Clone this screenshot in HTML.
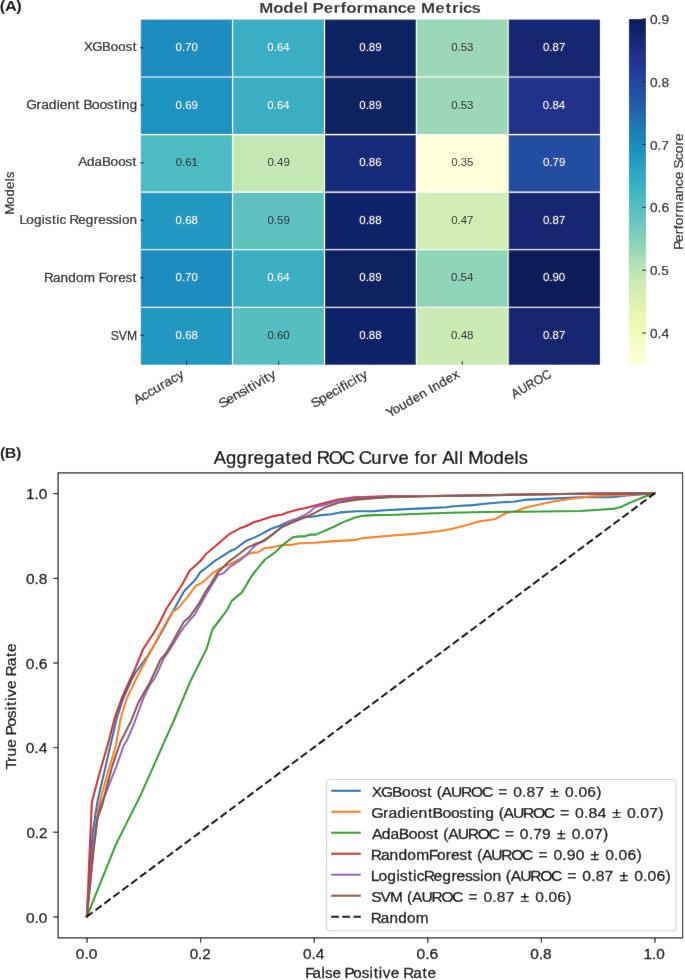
<!DOCTYPE html>
<html><head><meta charset="utf-8"><title>Model Performance</title>
<style>
html,body{margin:0;padding:0;background:#fff;}
body{width:685px;height:980px;overflow:hidden;font-family:"Liberation Sans",sans-serif;}
svg{display:block;}
</style></head>
<body>
<svg width="685" height="980" viewBox="0 0 685 980" font-family="'Liberation Sans', sans-serif">
<filter id="soft" x="0" y="0" width="1" height="1"><feConvolveMatrix order="3" kernelMatrix="0.00276 0.04704 0.00276 0.04704 0.80077 0.04704 0.00276 0.04704 0.00276" edgeMode="duplicate"/></filter>
<g filter="url(#soft)">
<rect x="0" y="0" width="685" height="980" fill="#fff"/>
<defs><linearGradient id="cb" x1="0" y1="0" x2="0" y2="1"><stop offset="0.0000" stop-color="#081d58"/><stop offset="0.0250" stop-color="#0d2163"/><stop offset="0.0500" stop-color="#13266f"/><stop offset="0.0750" stop-color="#192b7c"/><stop offset="0.1000" stop-color="#1f2f87"/><stop offset="0.1250" stop-color="#243392"/><stop offset="0.1500" stop-color="#243c98"/><stop offset="0.1750" stop-color="#24449c"/><stop offset="0.2000" stop-color="#234da0"/><stop offset="0.2250" stop-color="#2355a4"/><stop offset="0.2500" stop-color="#225da8"/><stop offset="0.2750" stop-color="#2168ad"/><stop offset="0.3000" stop-color="#2072b1"/><stop offset="0.3250" stop-color="#1f7db6"/><stop offset="0.3500" stop-color="#1e86bb"/><stop offset="0.3750" stop-color="#1d90c0"/><stop offset="0.4000" stop-color="#2498c1"/><stop offset="0.4250" stop-color="#2b9fc2"/><stop offset="0.4500" stop-color="#33a7c2"/><stop offset="0.4750" stop-color="#3aaec3"/><stop offset="0.5000" stop-color="#40b5c4"/><stop offset="0.5250" stop-color="#4ebbc2"/><stop offset="0.5500" stop-color="#59bfc0"/><stop offset="0.5750" stop-color="#67c4be"/><stop offset="0.6000" stop-color="#73c8bd"/><stop offset="0.6250" stop-color="#7ecdbb"/><stop offset="0.6500" stop-color="#8ed3ba"/><stop offset="0.6750" stop-color="#9cd8b8"/><stop offset="0.7000" stop-color="#abdeb7"/><stop offset="0.7250" stop-color="#b9e4b5"/><stop offset="0.7500" stop-color="#c6e9b4"/><stop offset="0.7750" stop-color="#cfecb3"/><stop offset="0.8000" stop-color="#d6efb3"/><stop offset="0.8250" stop-color="#dff2b2"/><stop offset="0.8500" stop-color="#e6f5b2"/><stop offset="0.8750" stop-color="#edf8b1"/><stop offset="0.9000" stop-color="#f1faba"/><stop offset="0.9250" stop-color="#f4fbc1"/><stop offset="0.9500" stop-color="#f8fcca"/><stop offset="0.9750" stop-color="#fcfed1"/><stop offset="1.0000" stop-color="#ffffd9"/></linearGradient></defs>
<text transform="translate(-0.54 10.90) scale(1.1638 1)" x="0.28 4.67 14.53" y="0" font-size="14.07" font-weight="bold" fill="#000">(A)</text>
<text transform="translate(259.21 13.00) scale(1.1311 1)" x="0.14 12.40 21.25 30.45 38.96 43.32 47.23 56.96 65.59 71.86 76.86 85.96 91.90 105.21 113.55 122.18 130.20 138.75 143.07 155.69 164.65 170.35 176.45 180.27 187.76" y="0" font-size="14.94" font-weight="bold" fill="#333">Model Performance Metrics</text>
<rect x="140.80" y="19.56" width="91.89" height="57.57" fill="#1d8dbe"/>
<rect x="232.64" y="19.56" width="91.89" height="57.57" fill="#3aaec3"/>
<rect x="324.48" y="19.56" width="91.89" height="57.57" fill="#0c2060"/>
<rect x="416.32" y="19.56" width="91.89" height="57.57" fill="#9cd8b8"/>
<rect x="508.16" y="19.56" width="91.89" height="57.57" fill="#142670"/>
<rect x="140.80" y="77.08" width="91.89" height="57.57" fill="#1f93c0"/>
<rect x="232.64" y="77.08" width="91.89" height="57.57" fill="#3aaec3"/>
<rect x="324.48" y="77.08" width="91.89" height="57.57" fill="#0c2060"/>
<rect x="416.32" y="77.08" width="91.89" height="57.57" fill="#9cd8b8"/>
<rect x="508.16" y="77.08" width="91.89" height="57.57" fill="#21308b"/>
<rect x="140.80" y="134.61" width="91.89" height="57.57" fill="#4ebbc2"/>
<rect x="232.64" y="134.61" width="91.89" height="57.57" fill="#c4e8b4"/>
<rect x="324.48" y="134.61" width="91.89" height="57.57" fill="#182a7a"/>
<rect x="416.32" y="134.61" width="91.89" height="57.57" fill="#ffffd9"/>
<rect x="508.16" y="134.61" width="91.89" height="57.57" fill="#234da0"/>
<rect x="140.80" y="192.13" width="91.89" height="57.57" fill="#2498c1"/>
<rect x="232.64" y="192.13" width="91.89" height="57.57" fill="#61c2bf"/>
<rect x="324.48" y="192.13" width="91.89" height="57.57" fill="#102369"/>
<rect x="416.32" y="192.13" width="91.89" height="57.57" fill="#d1edb3"/>
<rect x="508.16" y="192.13" width="91.89" height="57.57" fill="#142670"/>
<rect x="140.80" y="249.65" width="91.89" height="57.57" fill="#1d8dbe"/>
<rect x="232.64" y="249.65" width="91.89" height="57.57" fill="#3aaec3"/>
<rect x="324.48" y="249.65" width="91.89" height="57.57" fill="#0c2060"/>
<rect x="416.32" y="249.65" width="91.89" height="57.57" fill="#90d4b9"/>
<rect x="508.16" y="249.65" width="91.89" height="57.57" fill="#081d58"/>
<rect x="140.80" y="307.18" width="91.89" height="57.57" fill="#2498c1"/>
<rect x="232.64" y="307.18" width="91.89" height="57.57" fill="#57bec1"/>
<rect x="324.48" y="307.18" width="91.89" height="57.57" fill="#102369"/>
<rect x="416.32" y="307.18" width="91.89" height="57.57" fill="#cbebb4"/>
<rect x="508.16" y="307.18" width="91.89" height="57.57" fill="#142670"/>
<line x1="232.64" y1="19.56" x2="232.64" y2="364.70" stroke="#fff" stroke-width="1.05"/>
<line x1="324.48" y1="19.56" x2="324.48" y2="364.70" stroke="#fff" stroke-width="1.05"/>
<line x1="416.32" y1="19.56" x2="416.32" y2="364.70" stroke="#fff" stroke-width="1.05"/>
<line x1="508.16" y1="19.56" x2="508.16" y2="364.70" stroke="#fff" stroke-width="1.05"/>
<line x1="140.80" y1="77.08" x2="600.00" y2="77.08" stroke="#fff" stroke-width="1.05"/>
<line x1="140.80" y1="134.61" x2="600.00" y2="134.61" stroke="#fff" stroke-width="1.05"/>
<line x1="140.80" y1="192.13" x2="600.00" y2="192.13" stroke="#fff" stroke-width="1.05"/>
<line x1="140.80" y1="249.65" x2="600.00" y2="249.65" stroke="#fff" stroke-width="1.05"/>
<line x1="140.80" y1="307.18" x2="600.00" y2="307.18" stroke="#fff" stroke-width="1.05"/>
<text transform="translate(175.36 50.97) scale(1.0731 1)" x="0.20 6.14 9.10 15.04" y="0" font-size="10.67" fill="#ffffff">0.70</text>
<text transform="translate(267.14 50.97) scale(1.0727 1)" x="0.20 6.14 9.10 15.04" y="0" font-size="10.67" fill="#ffffff">0.64</text>
<text transform="translate(359.06 50.97) scale(1.0754 1)" x="0.20 6.14 9.10 15.04" y="0" font-size="10.67" fill="#ffffff">0.89</text>
<text transform="translate(450.95 50.97) scale(1.0682 1)" x="0.20 6.14 9.11 15.04" y="0" font-size="10.67" fill="#262626">0.53</text>
<text transform="translate(542.82 50.97) scale(1.0693 1)" x="0.20 6.14 9.11 15.04" y="0" font-size="10.67" fill="#ffffff">0.87</text>
<text transform="translate(175.38 108.50) scale(1.0754 1)" x="0.20 6.14 9.10 15.04" y="0" font-size="10.67" fill="#ffffff">0.69</text>
<text transform="translate(267.14 108.50) scale(1.0727 1)" x="0.20 6.14 9.10 15.04" y="0" font-size="10.67" fill="#ffffff">0.64</text>
<text transform="translate(359.06 108.50) scale(1.0754 1)" x="0.20 6.14 9.10 15.04" y="0" font-size="10.67" fill="#ffffff">0.89</text>
<text transform="translate(450.95 108.50) scale(1.0682 1)" x="0.20 6.14 9.11 15.04" y="0" font-size="10.67" fill="#262626">0.53</text>
<text transform="translate(542.66 108.50) scale(1.0727 1)" x="0.20 6.14 9.10 15.04" y="0" font-size="10.67" fill="#ffffff">0.84</text>
<text transform="translate(175.48 166.02) scale(1.0659 1)" x="0.21 6.14 9.11 15.04" y="0" font-size="10.67" fill="#262626">0.61</text>
<text transform="translate(267.22 166.02) scale(1.0754 1)" x="0.20 6.14 9.10 15.04" y="0" font-size="10.67" fill="#262626">0.49</text>
<text transform="translate(359.01 166.02) scale(1.0785 1)" x="0.20 6.14 9.10 15.04" y="0" font-size="10.67" fill="#ffffff">0.86</text>
<text transform="translate(450.98 166.02) scale(1.0646 1)" x="0.21 6.14 9.11 15.05" y="0" font-size="10.67" fill="#262626">0.35</text>
<text transform="translate(542.74 166.02) scale(1.0754 1)" x="0.20 6.14 9.10 15.04" y="0" font-size="10.67" fill="#ffffff">0.79</text>
<text transform="translate(175.36 223.54) scale(1.0757 1)" x="0.20 6.14 9.10 15.04" y="0" font-size="10.67" fill="#ffffff">0.68</text>
<text transform="translate(267.22 223.54) scale(1.0754 1)" x="0.20 6.14 9.10 15.04" y="0" font-size="10.67" fill="#262626">0.59</text>
<text transform="translate(359.04 223.54) scale(1.0757 1)" x="0.20 6.14 9.10 15.04" y="0" font-size="10.67" fill="#ffffff">0.88</text>
<text transform="translate(450.98 223.54) scale(1.0693 1)" x="0.20 6.14 9.11 15.04" y="0" font-size="10.67" fill="#262626">0.47</text>
<text transform="translate(542.82 223.54) scale(1.0693 1)" x="0.20 6.14 9.11 15.04" y="0" font-size="10.67" fill="#ffffff">0.87</text>
<text transform="translate(175.36 281.07) scale(1.0731 1)" x="0.20 6.14 9.10 15.04" y="0" font-size="10.67" fill="#ffffff">0.70</text>
<text transform="translate(267.14 281.07) scale(1.0727 1)" x="0.20 6.14 9.10 15.04" y="0" font-size="10.67" fill="#ffffff">0.64</text>
<text transform="translate(359.06 281.07) scale(1.0754 1)" x="0.20 6.14 9.10 15.04" y="0" font-size="10.67" fill="#ffffff">0.89</text>
<text transform="translate(450.82 281.07) scale(1.0727 1)" x="0.20 6.14 9.10 15.04" y="0" font-size="10.67" fill="#262626">0.54</text>
<text transform="translate(542.72 281.07) scale(1.0731 1)" x="0.20 6.14 9.10 15.04" y="0" font-size="10.67" fill="#ffffff">0.90</text>
<text transform="translate(175.36 338.59) scale(1.0757 1)" x="0.20 6.14 9.10 15.04" y="0" font-size="10.67" fill="#ffffff">0.68</text>
<text transform="translate(267.20 338.59) scale(1.0731 1)" x="0.20 6.14 9.10 15.04" y="0" font-size="10.67" fill="#262626">0.60</text>
<text transform="translate(359.04 338.59) scale(1.0757 1)" x="0.20 6.14 9.10 15.04" y="0" font-size="10.67" fill="#ffffff">0.88</text>
<text transform="translate(450.88 338.59) scale(1.0757 1)" x="0.20 6.14 9.10 15.04" y="0" font-size="10.67" fill="#262626">0.48</text>
<text transform="translate(542.82 338.59) scale(1.0693 1)" x="0.20 6.14 9.11 15.04" y="0" font-size="10.67" fill="#ffffff">0.87</text>
<text transform="translate(83.85 51.00) scale(1.0270 1)" x="0.07 8.13 17.61 26.12 33.47 40.63 47.54" y="0" font-size="12.85" fill="#262626" stroke="#262626" stroke-width="0.25">XGBoost</text>
<line x1="140.10" y1="47.72" x2="144.00" y2="47.72" stroke="#262626" stroke-width="1.0"/>
<text transform="translate(26.16 108.74) scale(1.0725 1)" x="-0.02 9.60 13.99 21.09 28.44 31.38 38.49 46.12 50.16 53.37 61.48 68.45 75.26 81.88 86.05 89.10 96.32" y="0" font-size="12.85" fill="#262626" stroke="#262626" stroke-width="0.25">Gradient Boosting</text>
<line x1="140.10" y1="105.25" x2="144.00" y2="105.25" stroke="#262626" stroke-width="1.0"/>
<text transform="translate(78.26 166.48) scale(1.0493 1)" x="0.09 8.30 15.61 22.52 30.84 38.01 45.01 51.79" y="0" font-size="12.85" fill="#262626" stroke="#262626" stroke-width="0.25">AdaBoost</text>
<line x1="140.10" y1="162.77" x2="144.00" y2="162.77" stroke="#262626" stroke-width="1.0"/>
<text transform="translate(19.28 224.22) scale(1.0550 1)" x="0.11 6.66 13.90 21.34 24.19 30.91 35.15 38.17 44.63 47.65 55.86 63.11 70.61 74.90 81.85 87.90 94.32 97.33 104.56" y="0" font-size="12.85" fill="#262626" stroke="#262626" stroke-width="0.25">Logistic Regression</text>
<line x1="140.10" y1="220.29" x2="144.00" y2="220.29" stroke="#262626" stroke-width="1.0"/>
<text transform="translate(43.94 281.96) scale(1.0502 1)" x="0.12 8.58 15.85 23.24 30.51 37.98 49.09 52.15 58.96 66.36 70.68 77.67 84.42" y="0" font-size="12.85" fill="#262626" stroke="#262626" stroke-width="0.25">Random Forest</text>
<line x1="140.10" y1="277.81" x2="144.00" y2="277.81" stroke="#262626" stroke-width="1.0"/>
<text transform="translate(110.60 339.70) scale(0.9448 1)" x="0.26 8.68 17.49" y="0" font-size="12.85" fill="#262626" stroke="#262626" stroke-width="0.25">SVM</text>
<line x1="140.10" y1="335.34" x2="144.00" y2="335.34" stroke="#262626" stroke-width="1.0"/>
<line x1="186.72" y1="360.90" x2="186.72" y2="364.70" stroke="#262626" stroke-width="1.0"/>
<text transform="translate(185.12 376.60) rotate(-30) scale(1.0557 1)" x="-53.07 -45.11 -38.77 -32.31 -24.85 -20.38 -13.31 -6.73" y="0" font-size="12.85" fill="#262626" stroke="#262626" stroke-width="0.25">Accuracy</text>
<line x1="278.56" y1="360.90" x2="278.56" y2="364.70" stroke="#262626" stroke-width="1.0"/>
<text transform="translate(276.96 376.60) rotate(-30) scale(1.0849 1)" x="-58.87 -51.21 -44.27 -37.49 -31.27 -27.90 -23.82 -20.78 -14.16 -10.79 -6.75" y="0" font-size="12.85" fill="#262626" stroke="#262626" stroke-width="0.25">Sensitivity</text>
<line x1="370.40" y1="360.90" x2="370.40" y2="364.70" stroke="#262626" stroke-width="1.0"/>
<text transform="translate(368.80 376.60) rotate(-30) scale(1.0745 1)" x="-58.84 -51.00 -43.98 -37.08 -30.65 -27.47 -23.58 -20.72 -14.29 -10.89 -6.79" y="0" font-size="12.85" fill="#262626" stroke="#262626" stroke-width="0.25">Specificity</text>
<line x1="462.24" y1="360.90" x2="462.24" y2="364.70" stroke="#262626" stroke-width="1.0"/>
<text transform="translate(460.64 376.60) rotate(-30) scale(1.0506 1)" x="-78.48 -72.16 -64.92 -57.54 -50.26 -42.99 -35.67 -32.11 -28.49 -21.11 -13.84 -6.68" y="0" font-size="12.85" fill="#262626" stroke="#262626" stroke-width="0.25">Youden Index</text>
<line x1="554.08" y1="360.90" x2="554.08" y2="364.70" stroke="#262626" stroke-width="1.0"/>
<text transform="translate(552.48 376.60) rotate(-30) scale(0.9471 1)" x="-46.60 -37.82 -28.61 -19.40 -9.46" y="0" font-size="12.85" fill="#262626" stroke="#262626" stroke-width="0.25">AUROC</text>
<text transform="translate(13.60 193.30) rotate(-90) scale(1.0288 1)" x="-20.92 -10.47 -3.14 4.21 11.61 14.52" y="0" font-size="12.85" fill="#262626" stroke="#262626" stroke-width="0.25">Models</text>
<rect x="628.90" y="19.00" width="17.10" height="345.70" fill="url(#cb)"/>
<line x1="642.40" y1="333.05" x2="646.00" y2="333.05" stroke="#262626" stroke-width="1.0"/>
<text transform="translate(649.70 338.05) scale(1.0643 1)" x="0.25 7.40 10.97" y="0" font-size="12.85" fill="#262626" stroke="#262626" stroke-width="0.25">0.4</text>
<line x1="642.40" y1="270.20" x2="646.00" y2="270.20" stroke="#262626" stroke-width="1.0"/>
<text transform="translate(649.70 275.20) scale(1.0527 1)" x="0.26 7.41 10.98" y="0" font-size="12.85" fill="#262626" stroke="#262626" stroke-width="0.25">0.5</text>
<line x1="642.40" y1="207.35" x2="646.00" y2="207.35" stroke="#262626" stroke-width="1.0"/>
<text transform="translate(649.70 212.35) scale(1.0725 1)" x="0.24 7.39 10.96" y="0" font-size="12.85" fill="#262626" stroke="#262626" stroke-width="0.25">0.6</text>
<line x1="642.40" y1="144.50" x2="646.00" y2="144.50" stroke="#262626" stroke-width="1.0"/>
<text transform="translate(649.70 149.50) scale(1.0594 1)" x="0.25 7.40 10.97" y="0" font-size="12.85" fill="#262626" stroke="#262626" stroke-width="0.25">0.7</text>
<line x1="642.40" y1="81.65" x2="646.00" y2="81.65" stroke="#262626" stroke-width="1.0"/>
<text transform="translate(649.70 86.65) scale(1.0685 1)" x="0.25 7.39 10.97" y="0" font-size="12.85" fill="#262626" stroke="#262626" stroke-width="0.25">0.8</text>
<line x1="642.40" y1="18.80" x2="646.00" y2="18.80" stroke="#262626" stroke-width="1.0"/>
<text transform="translate(649.70 23.80) scale(1.0680 1)" x="0.25 7.40 10.97" y="0" font-size="12.85" fill="#262626" stroke="#262626" stroke-width="0.25">0.9</text>
<text transform="translate(682.50 191.70) rotate(-90) scale(1.0493 1)" x="-55.28 -47.94 -40.54 -35.75 -31.93 -24.55 -19.94 -8.93 -1.68 5.56 11.98 19.20 22.23 30.20 36.59 43.98 48.28" y="0" font-size="12.85" fill="#262626" stroke="#262626" stroke-width="0.25">Performance Score</text>
<text transform="translate(-0.42 457.60) scale(1.1586 1)" x="0.28 4.57 14.23" y="0" font-size="13.82" font-weight="bold" fill="#000">(B)</text>
<text transform="translate(213.73 464.00) scale(1.0507 1)" x="0.13 11.61 21.74 32.04 37.94 47.91 57.86 68.31 73.90 83.87 93.91 98.08 109.41 121.74 133.74 137.94 150.02 160.31 166.84 175.97 185.86 191.20 196.44 206.55 212.85 217.42 228.99 233.42 237.68 242.22 256.41 266.35 276.32 286.37 290.30" y="0" font-size="17.56" fill="#000" stroke="#000" stroke-width="0.25">Aggregated ROC Curve for All Models</text>
<line x1="53.20" y1="916.90" x2="58.10" y2="916.90" stroke="#000" stroke-width="1.1"/>
<text transform="translate(25.60 922.50) scale(1.0649 1)" x="0.28 8.36 12.39" y="0" font-size="14.53" fill="#000" stroke="#000" stroke-width="0.25">0.0</text>
<line x1="87.05" y1="937.90" x2="87.05" y2="942.80" stroke="#000" stroke-width="1.1"/>
<text transform="translate(75.50 958.80) scale(1.0649 1)" x="0.28 8.36 12.39" y="0" font-size="14.53" fill="#000" stroke="#000" stroke-width="0.25">0.0</text>
<line x1="53.20" y1="832.25" x2="58.10" y2="832.25" stroke="#000" stroke-width="1.1"/>
<text transform="translate(26.09 837.85) scale(1.0483 1)" x="0.29 8.37 12.41" y="0" font-size="14.53" fill="#000" stroke="#000" stroke-width="0.25">0.2</text>
<line x1="200.63" y1="937.90" x2="200.63" y2="942.80" stroke="#000" stroke-width="1.1"/>
<text transform="translate(189.33 958.80) scale(1.0483 1)" x="0.29 8.37 12.41" y="0" font-size="14.53" fill="#000" stroke="#000" stroke-width="0.25">0.2</text>
<line x1="53.20" y1="747.60" x2="58.10" y2="747.60" stroke="#000" stroke-width="1.1"/>
<text transform="translate(25.46 753.20) scale(1.0643 1)" x="0.28 8.36 12.40" y="0" font-size="14.53" fill="#000" stroke="#000" stroke-width="0.25">0.4</text>
<line x1="314.22" y1="937.90" x2="314.22" y2="942.80" stroke="#000" stroke-width="1.1"/>
<text transform="translate(302.60 958.80) scale(1.0643 1)" x="0.28 8.36 12.40" y="0" font-size="14.53" fill="#000" stroke="#000" stroke-width="0.25">0.4</text>
<line x1="53.20" y1="662.95" x2="58.10" y2="662.95" stroke="#000" stroke-width="1.1"/>
<text transform="translate(25.53 668.55) scale(1.0725 1)" x="0.27 8.35 12.39" y="0" font-size="14.53" fill="#000" stroke="#000" stroke-width="0.25">0.6</text>
<line x1="427.80" y1="937.90" x2="427.80" y2="942.80" stroke="#000" stroke-width="1.1"/>
<text transform="translate(416.22 958.80) scale(1.0725 1)" x="0.27 8.35 12.39" y="0" font-size="14.53" fill="#000" stroke="#000" stroke-width="0.25">0.6</text>
<line x1="53.20" y1="578.30" x2="58.10" y2="578.30" stroke="#000" stroke-width="1.1"/>
<text transform="translate(25.60 583.90) scale(1.0685 1)" x="0.28 8.36 12.39" y="0" font-size="14.53" fill="#000" stroke="#000" stroke-width="0.25">0.8</text>
<line x1="541.39" y1="937.90" x2="541.39" y2="942.80" stroke="#000" stroke-width="1.1"/>
<text transform="translate(529.84 958.80) scale(1.0685 1)" x="0.28 8.36 12.39" y="0" font-size="14.53" fill="#000" stroke="#000" stroke-width="0.25">0.8</text>
<line x1="53.20" y1="493.65" x2="58.10" y2="493.65" stroke="#000" stroke-width="1.1"/>
<text transform="translate(25.60 499.25) scale(1.0621 1)" x="0.33 8.41 12.45" y="0" font-size="14.53" fill="#000" stroke="#000" stroke-width="0.25">1.0</text>
<line x1="654.97" y1="937.90" x2="654.97" y2="942.80" stroke="#000" stroke-width="1.1"/>
<text transform="translate(643.11 958.80) scale(1.0621 1)" x="0.33 8.41 12.45" y="0" font-size="14.53" fill="#000" stroke="#000" stroke-width="0.25">1.0</text>
<text transform="translate(304.99 978.00) scale(1.0399 1)" x="0.15 7.34 15.80 19.14 26.38 34.72 38.06 46.52 54.57 62.00 66.10 71.03 74.84 82.56 90.90 94.45 104.22 113.04 117.78" y="0" font-size="14.73" fill="#000" stroke="#000" stroke-width="0.25">False Positive Rate</text>
<text transform="translate(15.80 706.20) rotate(-90) scale(1.0582 1)" x="-59.71 -52.85 -47.53 -39.20 -30.93 -27.66 -19.28 -11.31 -3.94 0.11 4.99 8.74 16.37 24.65 28.12 37.80 46.54 51.21" y="0" font-size="14.73" fill="#000" stroke="#000" stroke-width="0.25">True Positive Rate</text>
<polyline points="86.85,916.60 92.80,832.00 97.70,800.00 104.06,773.00 109.80,748.00 116.70,718.50 122.60,700.20 131.40,680.00 135.60,672.50 147.60,656.00 154.90,644.00 162.30,631.10 172.90,611.50 183.90,591.40 194.90,580.30 200.40,572.10 205.00,568.70 214.20,561.40 229.80,551.30 235.30,549.00 246.40,540.70 253.70,537.90 262.40,533.60 270.60,529.00 279.80,525.80 288.10,521.70 297.30,518.90 305.60,517.10 312.00,516.80 319.30,515.40 331.00,514.20 340.40,512.40 356.70,511.30 374.20,511.10 384.70,510.30 406.90,509.10 428.80,508.10 446.30,507.20 453.60,506.20 472.60,505.10 485.00,503.70 501.90,502.20 513.60,501.80 523.80,499.90 545.70,498.90 580.00,497.20 612.20,497.20 627.10,495.50 649.40,493.70 654.40,493.10" fill="none" stroke="#1f77b4" stroke-width="2.08" stroke-linejoin="round" stroke-linecap="square"/>
<polyline points="86.85,916.60 94.00,842.00 98.70,805.00 103.10,790.00 108.40,770.00 115.70,746.20 120.80,717.70 126.80,698.40 138.40,674.30 150.30,652.30 161.40,631.10 171.90,612.50 178.40,607.90 187.60,596.90 195.80,585.80 201.40,583.10 205.00,580.20 212.40,573.30 219.70,568.70 229.80,564.10 239.00,559.50 246.40,554.90 252.80,552.60 258.30,552.20 264.20,548.30 271.50,547.40 282.60,545.10 293.60,544.60 299.10,543.30 315.00,542.80 327.50,541.60 355.50,539.90 362.60,538.10 390.00,535.80 414.20,533.90 440.50,531.00 452.20,528.80 466.80,525.10 480.00,521.20 494.60,519.30 506.30,513.00 516.50,511.00 526.70,507.20 538.40,504.70 553.00,501.50 567.60,499.30 580.00,497.80 587.40,496.80 606.00,495.50 624.60,494.90 654.40,493.10" fill="none" stroke="#ff7f0e" stroke-width="2.08" stroke-linejoin="round" stroke-linecap="square"/>
<polyline points="86.85,916.60 115.50,845.30 126.10,824.10 140.80,794.70 153.90,765.30 166.90,735.90 174.10,720.00 190.40,681.20 200.60,660.80 206.70,648.60 212.40,629.50 220.00,619.50 227.10,610.00 231.70,600.90 241.80,592.60 251.00,577.00 257.40,568.70 265.00,559.50 270.60,555.70 276.10,551.50 282.60,545.10 292.70,537.30 299.10,536.40 304.60,536.40 310.10,534.50 315.80,534.60 333.40,527.00 342.70,522.40 354.40,517.70 361.40,515.90 374.20,515.10 390.00,515.00 406.90,514.20 428.80,513.50 450.70,512.70 485.00,512.00 523.80,511.70 580.00,511.00 599.80,509.80 614.70,508.60 620.30,507.30 630.80,502.40 644.50,496.80 654.40,493.10" fill="none" stroke="#2ca02c" stroke-width="2.08" stroke-linejoin="round" stroke-linecap="square"/>
<polyline points="86.85,916.60 91.80,802.20 98.32,777.60 104.06,757.50 109.80,737.00 115.00,716.80 121.27,699.50 127.40,685.40 134.70,669.70 143.00,649.50 147.60,642.20 154.90,631.10 160.40,621.00 166.40,608.80 174.70,596.00 183.00,583.10 189.40,571.10 200.40,561.00 206.90,553.20 217.00,544.80 229.80,533.80 239.90,528.30 246.40,526.00 253.70,522.30 260.10,520.50 264.20,518.90 273.40,516.10 281.70,514.80 287.20,512.50 292.70,511.10 299.10,509.20 304.60,508.30 315.00,505.60 321.70,503.70 338.00,499.60 354.40,497.30 370.70,496.70 390.00,496.10 428.80,496.00 485.00,495.20 523.80,494.50 580.00,493.70 654.40,493.10" fill="none" stroke="#d62728" stroke-width="2.08" stroke-linejoin="round" stroke-linecap="square"/>
<polyline points="86.85,916.60 93.20,846.00 96.60,822.00 100.50,805.00 105.40,794.00 110.30,781.70 116.40,766.40 120.70,754.20 123.80,745.00 126.80,740.70 133.20,726.00 143.30,698.40 150.00,684.60 154.90,678.00 164.10,657.80 171.50,646.80 180.00,633.00 183.90,627.20 194.90,614.30 205.00,596.50 211.50,585.50 217.90,575.10 223.40,573.30 229.80,566.90 239.90,560.40 246.40,554.90 252.80,547.60 259.20,543.00 264.20,540.00 273.40,533.60 280.70,527.60 288.10,521.70 297.30,518.40 304.60,515.20 310.10,511.50 315.00,507.20 324.00,504.90 338.00,500.80 356.70,498.40 390.00,496.70 428.80,496.00 485.00,495.20 523.80,494.50 580.00,493.70 654.40,493.10" fill="none" stroke="#9467bd" stroke-width="2.08" stroke-linejoin="round" stroke-linecap="square"/>
<polyline points="86.85,916.60 93.70,850.00 97.60,818.20 102.30,805.00 107.20,784.80 112.10,766.40 115.20,757.20 119.50,745.00 120.30,742.50 131.40,720.40 137.80,703.90 139.80,700.00 150.30,681.70 160.40,659.60 166.00,653.20 171.50,644.00 180.00,628.40 183.90,621.70 189.40,617.10 198.60,604.20 205.00,592.50 210.50,584.30 217.90,572.40 228.90,561.40 239.00,554.00 247.30,547.60 256.50,543.40 264.20,541.00 271.50,535.40 281.70,527.20 289.90,523.50 299.10,519.80 308.30,516.00 315.80,512.40 324.00,507.80 339.20,502.50 356.70,499.60 374.20,498.10 390.00,497.30 428.80,496.30 485.00,495.40 523.80,494.60 580.00,493.80 654.40,493.10" fill="none" stroke="#8c564b" stroke-width="2.08" stroke-linejoin="round" stroke-linecap="square"/>
<line x1="86.85" y1="916.60" x2="654.75" y2="493.35" stroke="#000" stroke-width="2.08" stroke-dasharray="7.78 3.36" stroke-dashoffset="0.5"/>
<rect x="58.10" y="472.90" width="624.50" height="465.00" fill="none" stroke="#000" stroke-width="1.1"/>
<rect x="326.70" y="779.50" width="349.20" height="151.20" rx="2.8" fill="#fff" fill-opacity="0.8" stroke="#d6d6d6" stroke-width="1.1"/>
<line x1="331.20" y1="790.80" x2="360.80" y2="790.80" stroke="#1f77b4" stroke-width="2.08"/>
<text transform="translate(371.58 796.70) scale(1.0612 1)" x="0.07 8.90 19.36 28.74 36.83 44.72 52.38 57.07 61.34 65.98 74.93 84.35 93.73 103.95 113.93 119.31 129.19 133.45 141.80 146.05 154.46 162.80 168.45 178.07 182.33 190.67 194.93 203.34 211.75" y="0" font-size="14.68" fill="#000" stroke="#000" stroke-width="0.25">XGBoost (AUROC = 0.87 ± 0.06)</text>
<line x1="331.20" y1="811.78" x2="360.80" y2="811.78" stroke="#ff7f0e" stroke-width="2.08"/>
<text transform="translate(371.23 817.68) scale(1.0773 1)" x="-0.02 10.96 15.97 24.09 32.47 35.83 43.95 52.66 56.82 66.07 74.03 81.81 89.37 94.14 97.61 105.86 114.10 118.30 122.83 131.63 140.91 150.13 160.20 170.07 175.34 185.10 189.26 197.51 201.67 209.94 218.19 223.71 233.22 237.38 245.63 249.79 258.06 266.37" y="0" font-size="14.68" fill="#000" stroke="#000" stroke-width="0.25">GradientBoosting (AUROC = 0.84 ± 0.07)</text>
<line x1="331.20" y1="832.76" x2="360.80" y2="832.76" stroke="#2ca02c" stroke-width="2.08"/>
<text transform="translate(371.86 838.66) scale(1.0678 1)" x="0.10 9.31 17.49 25.20 34.53 42.56 50.41 58.03 62.69 66.93 71.52 80.41 89.77 99.09 109.24 119.17 124.51 134.34 138.56 146.86 151.08 159.43 167.73 173.32 182.90 187.11 195.42 199.63 207.98 216.36" y="0" font-size="14.68" fill="#000" stroke="#000" stroke-width="0.25">AdaBoost (AUROC = 0.79 ± 0.07)</text>
<line x1="331.20" y1="853.74" x2="360.80" y2="853.74" stroke="#d62728" stroke-width="2.08"/>
<text transform="translate(370.60 859.64) scale(1.0659 1)" x="0.11 9.66 17.84 26.17 34.36 42.74 54.55 62.22 70.57 75.41 83.28 90.91 95.57 99.82 104.42 113.31 122.68 132.00 142.16 152.10 157.44 167.28 171.50 179.81 184.03 192.39 200.69 206.29 215.87 220.09 228.40 232.62 240.98 249.36" y="0" font-size="14.68" fill="#000" stroke="#000" stroke-width="0.25">RandomForest (AUROC = 0.90 ± 0.06)</text>
<line x1="331.20" y1="874.72" x2="360.80" y2="874.72" stroke="#9467bd" stroke-width="2.08"/>
<text transform="translate(370.60 880.62) scale(1.0682 1)" x="0.11 7.52 15.70 24.14 27.34 34.96 39.76 43.15 49.68 58.97 67.17 75.68 80.51 88.37 95.21 102.49 105.87 114.05 122.33 126.57 131.17 140.05 149.41 158.72 168.88 178.81 184.14 193.97 198.19 206.49 210.70 219.05 227.35 232.95 242.52 246.73 255.04 259.25 267.60 275.97" y="0" font-size="14.68" fill="#000" stroke="#000" stroke-width="0.25">LogisticRegression (AUROC = 0.87 ± 0.06)</text>
<line x1="331.20" y1="895.70" x2="360.80" y2="895.70" stroke="#8c564b" stroke-width="2.08"/>
<text transform="translate(371.09 901.60) scale(1.0530 1)" x="0.20 8.95 18.00 29.91 34.21 38.88 47.88 57.34 66.77 77.04 87.05 92.47 102.39 106.67 115.05 119.34 127.78 136.16 141.84 151.50 155.79 164.16 168.45 176.90 185.35" y="0" font-size="14.68" fill="#000" stroke="#000" stroke-width="0.25">SVM (AUROC = 0.87 ± 0.06)</text>
<line x1="331.2" y1="916.68" x2="360.8" y2="916.68" stroke="#000" stroke-width="2.08" stroke-dasharray="7.78 3.36"/>
<text transform="translate(370.60 922.58) scale(1.0416 1)" x="0.14 9.81 18.13 26.58 34.89 43.44" y="0" font-size="14.68" fill="#000" stroke="#000" stroke-width="0.25">Random</text>
</g>
</svg>
</body></html>
